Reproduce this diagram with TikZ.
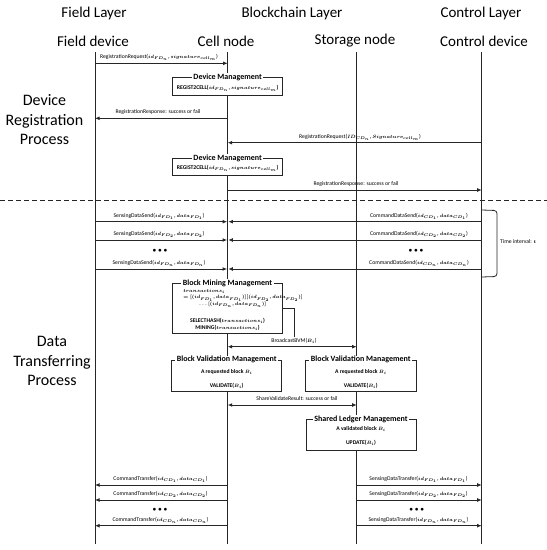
\documentclass[tikz,border=0pt]{standalone}
\usepackage{amsmath}
\usepackage{bm}
\usepackage{graphicx}
\usepackage{fontspec}
\setmainfont{Carlito}
\usetikzlibrary{arrows.meta}

\newcommand{\mth}[1]{\scalebox{0.78}{$\bm{#1}$}}
\newcommand{\tdots}{\textbullet\hspace{2.2pt}\textbullet\hspace{2.2pt}\textbullet}

\def\xFD{95}
\def\xCN{227.7}
\def\xSN{356.7}
\def\xCD{481.7}

\tikzset{
  life/.style={line width=0.9pt, draw=black!85},
  msg/.style={line width=0.8pt, draw=black!85, -{Latex[length=4.5pt,width=3.8pt]}},
  msgb/.style={line width=0.8pt, draw=black!85, {Latex[length=4.5pt,width=3.8pt]}-{Latex[length=4.5pt,width=3.8pt]}},
  lbl/.style={font=\fontsize{5.7}{6.5}\selectfont, anchor=base, inner sep=0.5pt},
  hdr/.style={font=\fontsize{15}{17}\selectfont, inner sep=0pt},
  proc/.style={font=\fontsize{16}{19.5}\selectfont, align=center, inner sep=0pt},
  mbox/.style={draw=black!85, line width=0.8pt, fill=white, rectangle, inner sep=0pt},
  mtitle/.style={font=\bfseries\fontsize{8}{9}\selectfont, fill=white, inner xsep=1.5pt, inner ysep=0pt},
  mtext/.style={font=\bfseries\fontsize{5.7}{6.5}\selectfont, inner sep=0.5pt},
  sep/.style={line width=0.8pt, dash pattern=on 5pt off 3pt, draw=black!85},
  dots/.style={font=\bfseries\fontsize{6.5}{7}\selectfont, inner sep=0pt},
}

\begin{document}
\begin{tikzpicture}[x=1pt,y=-1pt]
\useasboundingbox (0,0) rectangle (547,550);

% headers
\node[hdr] (flayer) at (94,13) {Field Layer};
\node[hdr] (blayer) at (292,13) {Blockchain Layer};
\node[hdr] (clayer) at (481,13) {Control Layer};
\node[hdr] (fdh) at (93,41) {Field device};
\node[hdr] (cnh) at (226,41) {Cell node};
\node[hdr] (snh) at (355,41) {Storage node};
\node[hdr] (cdh) at (484,41) {Control device};

% lifelines
\coordinate (fdT) at (\xFD,52);  \coordinate (fdB) at (\xFD,544);
\coordinate (cnT) at (\xCN,52);  \coordinate (cnB) at (\xCN,544);
\coordinate (snT) at (\xSN,52);  \coordinate (snB) at (\xSN,544);
\coordinate (cdT) at (\xCD,52);  \coordinate (cdB) at (\xCD,544);
\draw[life] (fdT) -- (fdB);
\draw[life] (cnT) -- (cnB);
\draw[life] (snT) -- (snB);
\draw[life] (cdT) -- (cdB);

% process labels
\node[proc] (drp) at (44.5,120) {Device\\Registration\\Process};
\node[proc] (dtp) at (52,361) {Data\\Transferring\\Process};

% separator
\coordinate (sepL) at (0,200);
\coordinate (sepR) at (547,200);
\draw[sep] (sepL) -- (sepR);

% ---------- registration ----------
\coordinate (r1a) at (\xFD,63.3); \coordinate (r1b) at (\xCN,63.3);
\draw[msg] (r1a) -- (r1b);
\node[lbl] (r1l) at (159,58.8) {RegistrationRequest(\mth{id_{FD_n}, signature_{cell_m}})};

\node[mbox, minimum width=110pt, minimum height=17.7pt] (dm1) at (227.7,86.2) {};
\node[mtitle] (dm1t) at (dm1.north) {Device Management};
\node[mtext] (dm1c) at (227.7,88) {REGIST2CELL(\mth{id_{FD_n}, signature_{cell_m}})};

\coordinate (r2a) at (\xCN,118.3); \coordinate (r2b) at (\xFD,118.3);
\draw[msg] (r2a) -- (r2b);
\node[lbl] (r2l) at (158,113.8) {RegistrationResponse: success or fail};

\coordinate (r3a) at (\xCD,142.7); \coordinate (r3b) at (\xCN,142.7);
\draw[msg] (r3a) -- (r3b);
\node[lbl] (r3l) at (360,138.2) {RegistrationRequest(\mth{ID_{CD_n}, Signature_{cell_m}})};

\node[mbox, minimum width=110pt, minimum height=16.7pt] (dm2) at (227.7,166.7) {};
\node[mtitle] (dm2t) at (dm2.north) {Device Management};
\node[mtext] (dm2c) at (227.7,168.3) {REGIST2CELL(\mth{id_{FD_n}, signature_{cell_m}})};

\coordinate (r4a) at (\xCN,190); \coordinate (r4b) at (\xCD,190);
\draw[msg] (r4a) -- (r4b);
\node[lbl] (r4l) at (356,185.5) {RegistrationResponse: success or fail};

% ---------- data sending ----------
\coordinate (s1a) at (\xFD,221.7); \coordinate (s1b) at (\xCN,221.7);
\draw[msg, shorten >=0.6pt] (s1a) -- (s1b);
\node[lbl] (s1l) at (159,217.2) {SensingDataSend(\mth{id_{FD_1}, data_{FD_1}})};
\coordinate (c1a) at (\xCD,221.7); \coordinate (c1b) at (\xCN,221.7);
\draw[msg, shorten >=0.6pt] (c1a) -- (c1b);
\node[lbl] (c1l) at (419,217.2) {CommandDataSend(\mth{id_{CD_1}, data_{CD_1}})};

\coordinate (s2a) at (\xFD,240); \coordinate (s2b) at (\xCN,240);
\draw[msg, shorten >=0.6pt] (s2a) -- (s2b);
\node[lbl] (s2l) at (159,235.5) {SensingDataSend(\mth{id_{FD_2}, data_{FD_2}})};
\coordinate (c2a) at (\xCD,240); \coordinate (c2b) at (\xCN,240);
\draw[msg, shorten >=0.6pt] (c2a) -- (c2b);
\node[lbl] (c2l) at (419,235.5) {CommandDataSend(\mth{id_{CD_2}, data_{CD_2}})};

\node[dots] (d1) at (160,251) {\tdots};
\node[dots] (d2) at (416,251) {\tdots};

\coordinate (s3a) at (\xFD,269); \coordinate (s3b) at (\xCN,269);
\draw[msg, shorten >=0.6pt] (s3a) -- (s3b);
\node[lbl] (s3l) at (159,264.5) {SensingDataSend(\mth{id_{FD_n}, data_{FD_n}})};
\coordinate (c3a) at (\xCD,269); \coordinate (c3b) at (\xCN,269);
\draw[msg, shorten >=0.6pt] (c3a) -- (c3b);
\node[lbl] (c3l) at (419,264.5) {CommandDataSend(\mth{id_{CD_n}, data_{CD_n}})};

% time interval bracket
\coordinate (tiT) at (\xCD,210); \coordinate (tiB) at (\xCD,277);
\draw[line width=0.8pt, draw=black!85, rounded corners=3pt] (tiT) -- (497,210.5) -- (497,276.5) -- (tiB);
\node[font=\fontsize{5.7}{6.5}\selectfont, anchor=west, inner sep=0pt] (til) at (500,242) {Time interval: \mth{t}};

% ---------- block mining ----------
\node[mbox, minimum width=110.4pt, minimum height=50pt] (bmm) at (227.5,308.3) {};
\node[mtitle] (bmmt) at (bmm.north) {Block Mining Management};
\node[mtext, anchor=west] (bm1) at (182.7,291.7) {\mth{transactions_i}};
\node[mtext, anchor=west] (bm2) at (182.7,298.3) {\mth{= [(id_{FD_1}, data_{FD_1})][(id_{FD_2}, data_{FD_2})]}};
\node[mtext, anchor=east] (bm3) at (267,305) {\mth{\ldots[(id_{FD_n}, data_{FD_n})]}};
\node[mtext] (bm4) at (227.5,321) {SELECTHASH(\mth{transactions_i})};
\node[mtext] (bm5) at (227.5,328.3) {MINING(\mth{transactions_i})};

\coordinate (bba) at (\xCN,346.7); \coordinate (bbb) at (\xSN,346.7);
\draw[msgb] (bba) -- (bbb);
\node[lbl] (bbl) at (294,342.2) {BroadcastBVM(\mth{B_i})};
\coordinate (bmmR) at (bmm.east |- 0,308.3);
\draw[line width=0.8pt, draw=black!85] (bmmR) -| (bbl.north);

% ---------- block validation ----------
\node[mbox, minimum width=110pt, minimum height=31.7pt] (bv1) at (226.7,375.8) {};
\node[mtitle] (bv1t) at (bv1.north) {Block Validation Management};
\node[mtext] (bv1a) at (226.7,371.7) {A requested block \mth{B_i}};
\node[mtext] (bv1b) at (226.7,385.7) {VALIDATE(\mth{B_i})};

\node[mbox, minimum width=110.3pt, minimum height=31.7pt] (bv2) at (360.8,375.8) {};
\node[mtitle] (bv2t) at (bv2.north) {Block Validation Management};
\node[mtext] (bv2a) at (360.8,371.7) {A requested block \mth{B_i}};
\node[mtext] (bv2b) at (360.8,385.7) {VALIDATE(\mth{B_i})};

\coordinate (sva) at (\xCN,405); \coordinate (svb) at (\xSN,405);
\draw[msgb] (sva) -- (svb);
\node[lbl] (svl) at (297,400.5) {ShareValidateResult: success or fail};

\node[mbox, minimum width=110pt, minimum height=31.4pt] (slm) at (361,435) {};
\node[mtitle] (slmt) at (slm.north) {Shared Ledger Management};
\node[mtext] (slma) at (361,429.3) {A validated block \mth{B_i}};
\node[mtext] (slmb) at (361,443.3) {UPDATE(\mth{B_i})};

% ---------- transfers ----------
\coordinate (t1a) at (\xCN,485); \coordinate (t1b) at (\xFD,485);
\draw[msg] (t1a) -- (t1b);
\node[lbl] (t1l) at (160.5,480.5) {CommandTransfer(\mth{id_{CD_1}, data_{CD_1}})};
\coordinate (u1a) at (\xSN,485); \coordinate (u1b) at (\xCD,485);
\draw[msg] (u1a) -- (u1b);
\node[lbl] (u1l) at (418.5,480.5) {SensingDataTransfer(\mth{id_{FD_1}, data_{FD_1}})};

\coordinate (t2a) at (\xCN,500); \coordinate (t2b) at (\xFD,500);
\draw[msg] (t2a) -- (t2b);
\node[lbl] (t2l) at (160.5,495.5) {CommandTransfer(\mth{id_{CD_2}, data_{CD_2}})};
\coordinate (u2a) at (\xSN,500); \coordinate (u2b) at (\xCD,500);
\draw[msg] (u2a) -- (u2b);
\node[lbl] (u2l) at (418.5,495.5) {SensingDataTransfer(\mth{id_{FD_2}, data_{FD_2}})};

\node[dots] (d3) at (160,510) {\tdots};
\node[dots] (d4) at (416.7,510) {\tdots};

\coordinate (t3a) at (\xCN,525.7); \coordinate (t3b) at (\xFD,525.7);
\draw[msg] (t3a) -- (t3b);
\node[lbl] (t3l) at (160.5,521.2) {CommandTransfer(\mth{id_{CD_n}, data_{CD_n}})};
\coordinate (u3a) at (\xSN,525.7); \coordinate (u3b) at (\xCD,525.7);
\draw[msg] (u3a) -- (u3b);
\node[lbl] (u3l) at (418.5,521.2) {SensingDataTransfer(\mth{id_{FD_n}, data_{FD_n}})};

\end{tikzpicture}
\end{document}
